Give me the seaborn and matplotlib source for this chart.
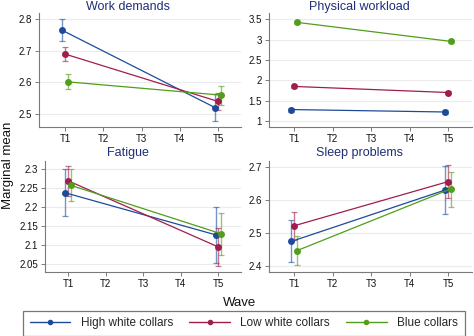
import numpy as np
import pandas as pd
import matplotlib
matplotlib.use("Agg")
import matplotlib.pyplot as plt
import seaborn as sns
from matplotlib.lines import Line2D

sns.set_style("white")
plt.rcParams["font.family"] = ["Liberation Sans", "DejaVu Sans"]

groups = ["High white collars", "Low white collars", "Blue collars"]
colors = ["#1d4b9b", "#a11d4d", "#519d1c"]
waves = [1, 5]
wave_labels = ["T1", "T2", "T3", "T4", "T5"]

# Marginal means and 95% CI bounds at T1 and T5, per occupational group
work_mean = [[2.765, 2.520], [2.690, 2.540], [2.602, 2.560]]
work_lo = [[2.730, 2.478], [2.667, 2.512], [2.578, 2.530]]
work_hi = [[2.800, 2.562], [2.713, 2.568], [2.626, 2.590]]

phys_mean = [[1.28, 1.22], [1.85, 1.70], [3.43, 2.96]]
phys_lo = [[1.23, 1.17], [1.81, 1.66], [3.39, 2.92]]
phys_hi = [[1.33, 1.27], [1.89, 1.74], [3.47, 3.00]]

fat_mean = [[2.238, 2.127], [2.270, 2.095], [2.258, 2.130]]
fat_lo = [[2.177, 2.052], [2.230, 2.045], [2.216, 2.075]]
fat_hi = [[2.300, 2.200], [2.310, 2.146], [2.300, 2.184]]

sleep_mean = [[2.475, 2.630], [2.522, 2.655], [2.447, 2.633]]
sleep_lo = [[2.412, 2.557], [2.480, 2.605], [2.405, 2.580]]
sleep_hi = [[2.538, 2.703], [2.565, 2.705], [2.490, 2.685]]

panels = [
    ("Work demands", work_mean, work_lo, work_hi,
     [2.5, 2.6, 2.7, 2.8], ["2.5", "2.6", "2.7", "2.8"]),
    ("Physical workload", phys_mean, phys_lo, phys_hi,
     [1, 1.5, 2, 2.5, 3, 3.5], ["1", "1.5", "2", "2.5", "3", "3.5"]),
    ("Fatigue", fat_mean, fat_lo, fat_hi,
     [2.05, 2.1, 2.15, 2.2, 2.25, 2.3], ["2.05", "2.1", "2.15", "2.2", "2.25", "2.3"]),
    ("Sleep problems", sleep_mean, sleep_lo, sleep_hi,
     [2.4, 2.5, 2.6, 2.7], ["2.4", "2.5", "2.6", "2.7"]),
]

W, H = 474, 336
fig = plt.figure(figsize=(W / 100, H / 100), dpi=100)

# axes boxes in pixels: x0, x1, y_top, y_bottom ; plus limits
boxes = [
    (39, 241, 13, 127, (0.32, 5.6), (2.459, 2.82)),
    (269, 472, 13, 127, (0.35, 5.62), (0.85, 3.66)),
    (45, 241, 161, 272, (0.39, 5.6), (2.029, 2.322)),
    (269, 472, 161, 272, (0.35, 5.62), (2.383, 2.717)),
]
title_pos = [(128, 7), (359, 7), (128, 153), (359, 153)]
dodge = [-0.07, 0.0, 0.07]

for (title, mean, lo, hi, yt, ytl), (x0, x1, yt_px, yb_px, xl, yl), (tx, ty) in zip(panels, boxes, title_pos):
    ax = fig.add_axes([x0 / W, (H - yb_px) / H, (x1 - x0) / W, (yb_px - yt_px) / H])
    rows = []
    for g, name in enumerate(groups):
        for k, w in enumerate(waves):
            rows.append({"group": name, "x": w + dodge[g], "mean": mean[g][k],
                         "lo": lo[g][k], "hi": hi[g][k]})
    df = pd.DataFrame(rows)
    for g, name in enumerate(groups):
        sub = df[df.group == name]
        ax.errorbar(sub.x, sub["mean"], yerr=[sub["mean"] - sub.lo, sub.hi - sub["mean"]],
                    fmt="none", ecolor=colors[g], alpha=0.6, elinewidth=1.0,
                    capsize=2.5, capthick=0.9, zorder=2)
    sns.lineplot(data=df, x="x", y="mean", hue="group", hue_order=groups,
                 palette=colors, marker="o", markersize=5, markeredgewidth=0,
                 linewidth=0.9, legend=False, ax=ax, errorbar=None, zorder=3)
    ax.set_xlim(*xl)
    ax.set_ylim(*yl)
    ax.set_xticks([1, 2, 3, 4, 5])
    ax.set_xticklabels(wave_labels)
    ax.set_yticks(yt)
    ax.set_yticklabels(ytl)
    ax.set_xlabel("")
    ax.set_ylabel("")
    ax.grid(axis="y", color="#ebebeb", linewidth=0.8)
    ax.set_axisbelow(True)
    for s in ["top", "right"]:
        ax.spines[s].set_visible(False)
    for s in ["left", "bottom"]:
        ax.spines[s].set_color("#7a7a7a")
        ax.spines[s].set_linewidth(0.8)
    ax.tick_params(axis="both", direction="out", length=3, width=0.7, color="#7a7a7a",
                   labelsize=7, pad=2, left=True, bottom=True, labelcolor="#111111")
    fig.text(tx / W, 1 - ty / H, title, ha="center", va="center", fontsize=9,
             color="#1f2f78")

fig.text(8 / W, 1 - 165 / H, "Marginal mean", rotation=90, ha="center", va="center",
         fontsize=9.5, color="#111111")
fig.text(240 / W, 1 - 303 / H, "Wave", ha="center", va="center", fontsize=9.5,
         color="#111111")

handles = [Line2D([0], [0], color=c, marker="o", markersize=4, markeredgewidth=0,
                  linewidth=1.0) for c in colors]
leg = fig.legend(handles, groups, loc="upper center", bbox_to_anchor=(244 / W, 1 - 311 / H),
                 ncol=3, frameon=True, fontsize=8.5, handlelength=3.4, columnspacing=1.4,
                 handletextpad=0.9, borderpad=0.55, borderaxespad=0, fancybox=False)
leg.get_frame().set_edgecolor("#555555")
leg.get_frame().set_linewidth(0.9)

fig.savefig("out.png", dpi=100, facecolor="white")
